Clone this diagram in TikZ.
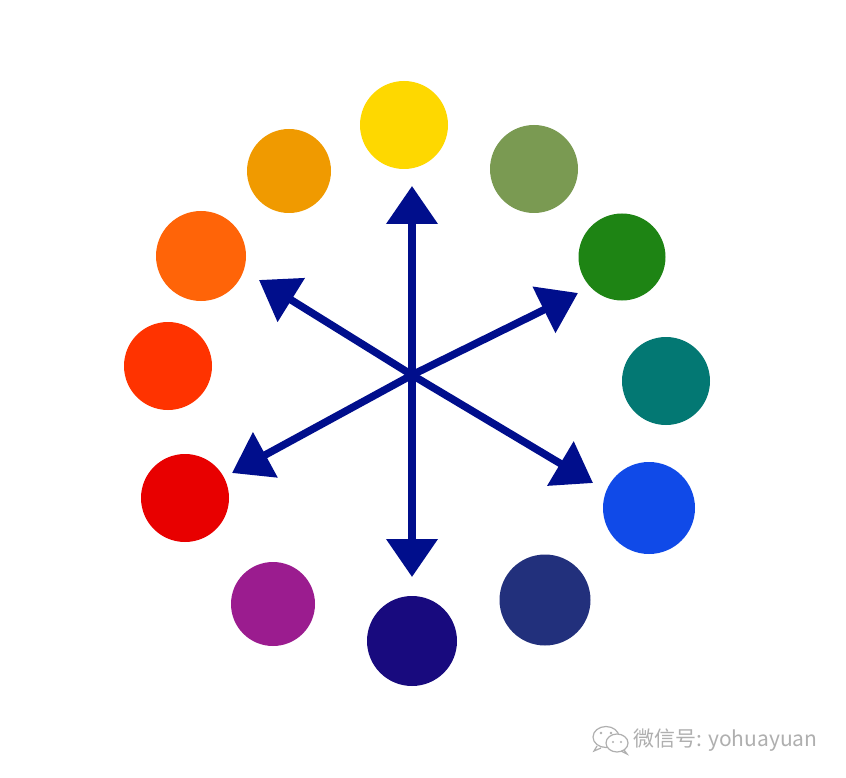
\documentclass[tikz,border=0pt]{standalone}
\usepackage{fontspec}
\newfontfamily\cjk{Noto Sans CJK SC}
\usetikzlibrary{arrows.meta}
\definecolor{c1}{RGB}{254,216,0}
\definecolor{c2}{RGB}{122,154,82}
\definecolor{c3}{RGB}{30,132,20}
\definecolor{c4}{RGB}{3,120,115}
\definecolor{c5}{RGB}{16,74,232}
\definecolor{c6}{RGB}{34,48,124}
\definecolor{c7}{RGB}{24,10,126}
\definecolor{c8}{RGB}{155,28,143}
\definecolor{c9}{RGB}{232,0,0}
\definecolor{c10}{RGB}{255,51,0}
\definecolor{c11}{RGB}{255,100,8}
\definecolor{c12}{RGB}{240,154,0}
\definecolor{arrowblue}{RGB}{0,14,140}
\definecolor{wmgray}{RGB}{175,175,175}
\begin{document}
\begin{tikzpicture}[x=1pt,y=-1pt,
  dot/.style={circle,inner sep=0pt,minimum size=#1,draw=none},
  ray/.style={draw=arrowblue,line width=7.5pt,-{Triangle[length=38pt,width=50pt]}},
  wm/.style={text=wmgray,inner sep=0pt,font=\cjk\fontsize{21}{21}\selectfont}]
\useasboundingbox (0,0) rectangle (846,778);
\fill[white] (0,0) rectangle (846,778);
\node[dot=88pt,fill=c1]  (n1)  at (404,125) {};
\node[dot=88pt,fill=c2]  (n2)  at (534,169) {};
\node[dot=87pt,fill=c3]  (n3)  at (622,257) {};
\node[dot=88pt,fill=c4]  (n4)  at (666,381) {};
\node[dot=92pt,fill=c5]  (n5)  at (649,508) {};
\node[dot=91pt,fill=c6]  (n6)  at (545,600) {};
\node[dot=90pt,fill=c7]  (n7)  at (412,641) {};
\node[dot=84pt,fill=c8]  (n8)  at (273,604) {};
\node[dot=88pt,fill=c9]  (n9)  at (185,498) {};
\node[dot=88pt,fill=c10] (n10) at (168,366) {};
\node[dot=90pt,fill=c11] (n11) at (201,256) {};
\node[dot=84pt,fill=c12] (n12) at (289,171) {};
\coordinate (o) at (412,375);
\coordinate (tu) at (412,186);
\coordinate (td) at (412,577);
\coordinate (tul) at (259,280);
\coordinate (tur) at (578,293);
\coordinate (tdl) at (232,473);
\coordinate (tdr) at (593,483);
\foreach \t in {tu,td,tul,tur,tdl,tdr} \draw[ray] (o) -- (\t);
% watermark
\begin{scope}[draw=wmgray,line width=1.2pt]
\draw[fill=white] (606,737) ellipse (13pt and 10.5pt);
\draw (597,746) -- (594,751) -- (601,748);
\draw[fill=white] (617,743) ellipse (11pt and 9pt);
\draw (624,750) -- (627,754) -- (621,751);
\end{scope}
\fill[wmgray] (601,733) circle (1.3pt) (611,733) circle (1.3pt) (613,742) circle (1.2pt) (621,742) circle (1.2pt);
\node[wm,anchor=west] (wmt) at (633,740) {微信号: yohuayuan};
\end{tikzpicture}
\end{document}
